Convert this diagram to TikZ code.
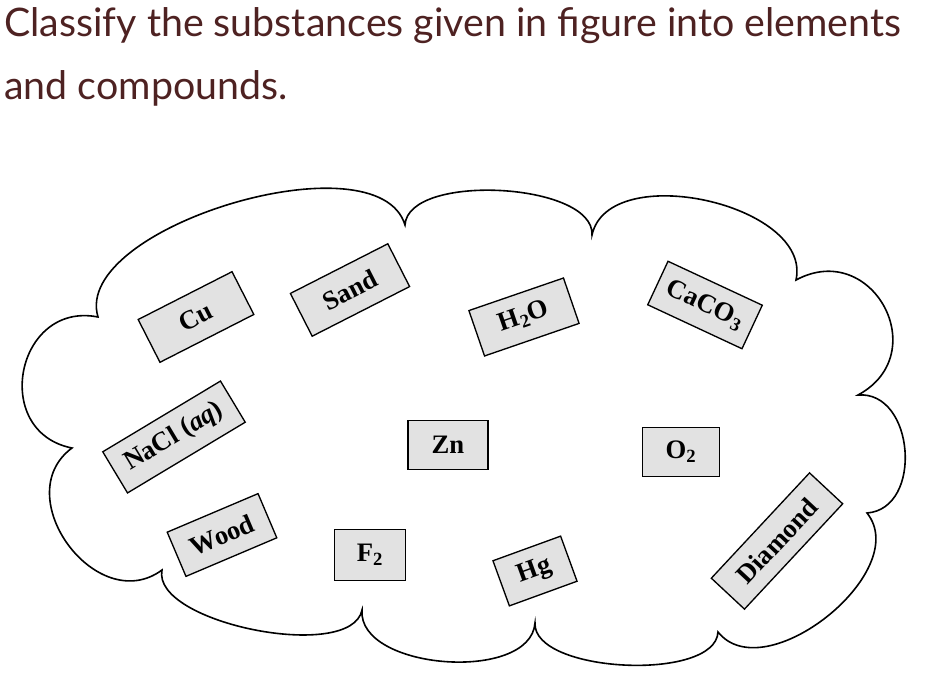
\documentclass[tikz,border=0pt]{standalone}
\usepackage{fontspec}
\setmainfont{Liberation Serif}
\newfontfamily\titlefont{Lato}
\definecolor{titlecol}{HTML}{4E2222}
\definecolor{boxfill}{HTML}{E2E2E2}
\begin{document}
\begin{tikzpicture}[x=0.75pt,y=-0.75pt,
  subst/.style={draw=black,line width=1pt,fill=boxfill,minimum height=36pt,inner sep=0pt,font=\fontsize{20}{22}\selectfont\bfseries},
  ttl/.style={anchor=base west,inner sep=0pt,text=titlecol,font=\titlefont\fontsize{29.5}{32}\selectfont}]
\useasboundingbox (0,0) rectangle (927,673);
\node[ttl] (t1) at (4,37) {Classify the substances given in figure into elements};
\node[ttl] (t2) at (4,100) {and compounds.};
\draw[line width=1.2pt]
 (98,317) to[out=106.7,in=106.7,looseness=0.75] (405,225)
 to[out=86.9,in=86.9,looseness=0.72] (592,235)
 to[out=77.6,in=77.6,looseness=0.95] (796,280)
 to[out=28.3,in=28.3,looseness=1.7] (858,395)
 to[out=4.4,in=4.4,looseness=1.23] (867,513)
 to[out=-51.4,in=-51.4,looseness=1.0] (718,632)
 to[out=-92.8,in=-92.8,looseness=0.7] (535,623)
 to[out=-94.3,in=-94.3,looseness=0.89] (362,610)
 to[out=-101.3,in=-101.3,looseness=0.68] (162,570)
 to[out=-143.6,in=-143.6,looseness=1.36] (72,448)
 to[out=168.8,in=168.8,looseness=1.6] (98,317) -- cycle;
\node[subst,minimum width=79pt,rotate=27] (cu) at (196,317) {Cu};
\node[subst,minimum width=82pt,rotate=27] (sand) at (350,290) {Sand};
\node[subst,minimum width=75pt,rotate=19] (h2o) at (524,317) {H\textsubscript{2}O};
\node[subst,minimum width=78pt,rotate=-25] (caco) at (705,305) {CaCO\textsubscript{3}};
\node[subst,minimum width=103pt,rotate=31] (nacl) at (174,437) {NaCl (\textit{aq})};
\node[subst,minimum width=60pt,minimum height=37pt] (zn) at (448,445) {Zn};
\node[subst,minimum width=58pt,minimum height=37pt] (o2) at (681,452) {O\textsubscript{2}};
\node[subst,minimum width=74pt,rotate=23] (wood) at (222,535) {Wood};
\node[subst,minimum width=53pt,minimum height=38pt] (f2) at (370,555) {F\textsubscript{2}};
\node[subst,minimum width=54pt,rotate=20] (hg) at (535,571) {Hg};
\node[subst,minimum width=108pt,minimum height=34pt,rotate=47] (dia) at (777,541) {Diamond};
\end{tikzpicture}
\end{document}
